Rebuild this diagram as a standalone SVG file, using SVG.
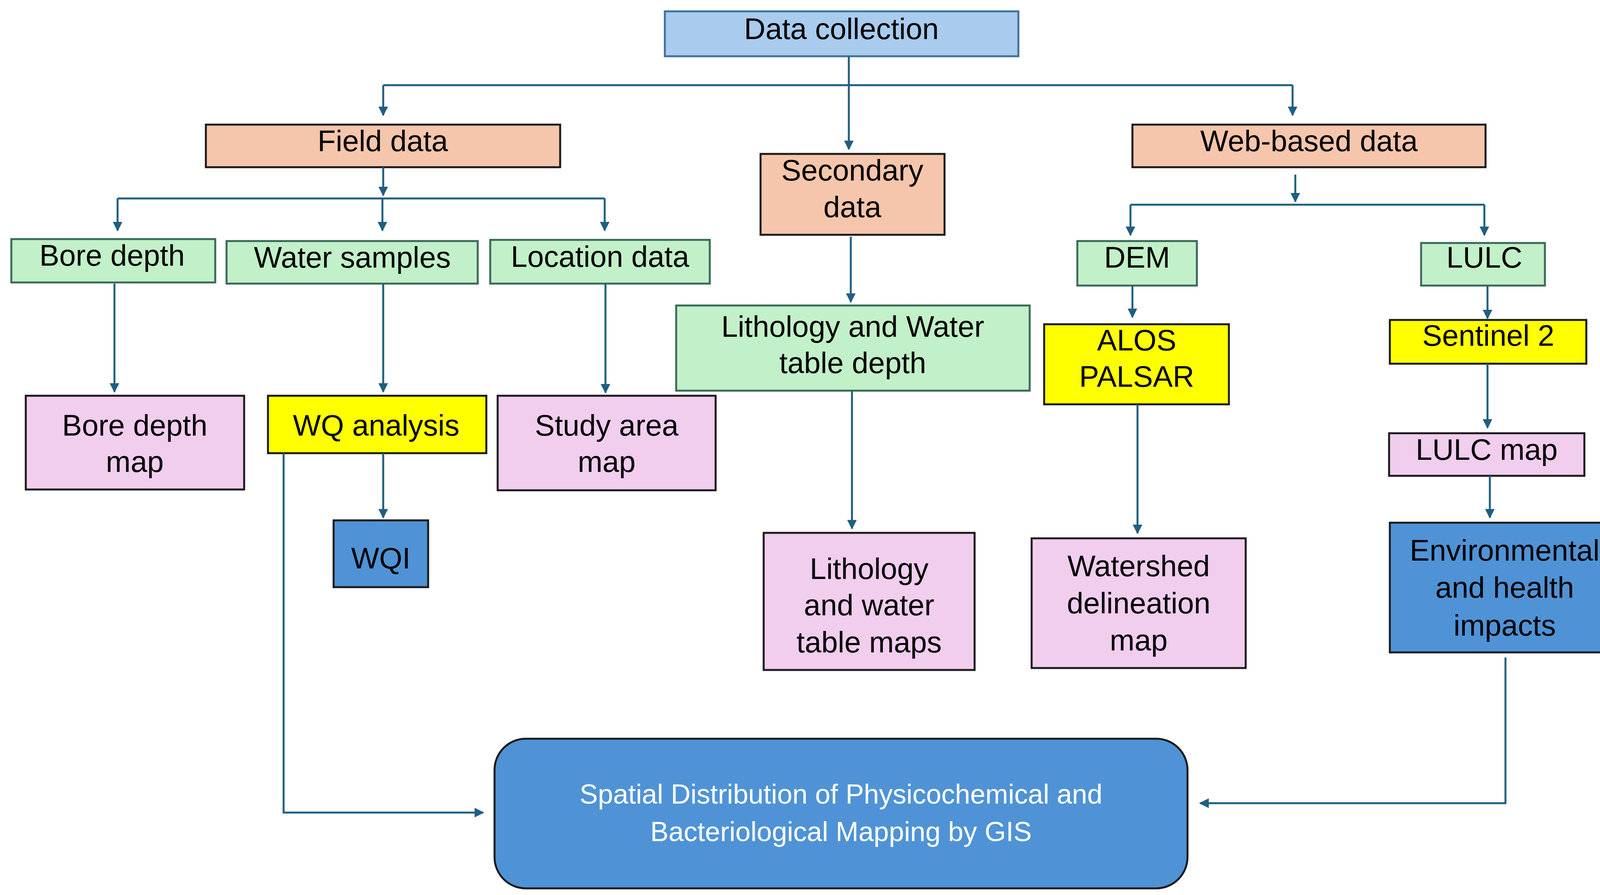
<svg xmlns="http://www.w3.org/2000/svg" width="4170" height="2291" viewBox="0 0 4170 2291">
<style>
rect{stroke:#1a1a1a;stroke-width:5}
.b{fill:#a9cbee;stroke:#41719c}.p{fill:#f5c6ab}.g{fill:#c2f0c8;stroke:#3a6a5a}.k{fill:#f1cdee}.y{fill:#ffff00}.d{fill:#4f93d6}
text{font-family:"Liberation Sans",Arial,sans-serif;font-size:76px;fill:#000;text-anchor:middle}
.w{fill:#fff;font-size:70px}
.c{fill:none;stroke:#1f5f80;stroke-width:5}
</style>
<defs><marker id="a" viewBox="0 0 10 10" refX="9" refY="5" markerWidth="5" markerHeight="5" orient="auto" markerUnits="strokeWidth"><path d="M0,0L10,5L0,10z" fill="#1f5f80"/></marker></defs>
<g id="n1"><rect class="b" x="1702" y="29" width="905" height="115"/><text x="2154" y="100">Data collection</text></g>
<g id="n2"><rect class="p" x="527" y="319" width="907" height="109"/><text x="980" y="387">Field data</text></g>
<g id="n3"><rect class="p" x="1947" y="394" width="471" height="207"/><text x="2182" y="462">Secondary</text><text x="2182" y="556">data</text></g>
<g id="n4"><rect class="p" x="2899" y="319" width="904" height="109"/><text x="3351" y="387">Web-based data</text></g>
<g id="n5"><rect class="g" x="29" y="612" width="522" height="111"/><text x="287" y="680">Bore depth</text></g>
<g id="n6"><rect class="g" x="580" y="617" width="643" height="109"/><text x="902" y="685">Water samples</text></g>
<g id="n7"><rect class="g" x="1255" y="614" width="562" height="112"/><text x="1536" y="683">Location data</text></g>
<g id="n8"><rect class="k" x="66" y="1013" width="559" height="240"/><text x="345" y="1115">Bore depth</text><text x="345" y="1208">map</text></g>
<g id="n9"><rect class="y" x="686" y="1013" width="559" height="147"/><text x="963" y="1115">WQ analysis</text></g>
<g id="n10"><rect class="k" x="1274" y="1013" width="558" height="242"/><text x="1553" y="1115">Study area</text><text x="1553" y="1208">map</text></g>
<g id="n11"><rect class="d" x="854" y="1332" width="242" height="171"/><text x="975" y="1455">WQI</text></g>
<g id="n12"><rect class="g" x="1731" y="782" width="905" height="218"/><text x="2183" y="862">Lithology and Water</text><text x="2183" y="955">table depth</text></g>
<g id="n13"><rect class="k" x="1955" y="1364" width="540" height="351"/><text x="2225" y="1482">Lithology</text><text x="2225" y="1575">and water</text><text x="2225" y="1670">table maps</text></g>
<g id="n14"><rect class="g" x="2758" y="617" width="306" height="114"/><text x="2911" y="685">DEM</text></g>
<g id="n15"><rect class="g" x="3638" y="622" width="317" height="109"/><text x="3800" y="685">LULC</text></g>
<g id="n16"><rect class="y" x="2673" y="830" width="473" height="205"/><text x="2910" y="897">ALOS</text><text x="2910" y="990">PALSAR</text></g>
<g id="n17"><rect class="k" x="2641" y="1378" width="548" height="332"/><text x="2915" y="1475">Watershed</text><text x="2915" y="1570">delineation</text><text x="2915" y="1665">map</text></g>
<g id="n18"><rect class="y" x="3558" y="819" width="503" height="112"/><text x="3810" y="885">Sentinel 2</text></g>
<g id="n19"><rect class="k" x="3556" y="1109" width="500" height="109"/><text x="3806" y="1177">LULC map</text></g>
<g id="n20"><rect class="d" x="3558" y="1338" width="588" height="332"/><text x="3852" y="1435">Environmental</text><text x="3852" y="1530">and health</text><text x="3852" y="1627">impacts</text></g>
<g id="n21"><rect class="d" x="1266" y="1891" width="1774" height="383" rx="80" stroke-width="6"/><text class="w" x="2153" y="2057">Spatial Distribution of Physicochemical and</text><text class="w" x="2153" y="2153">Bacteriological Mapping by GIS</text></g>
<g id="connectors">
<path class="c" d="M2173,144V218M981,218H3309"/>
<path class="c" marker-end="url(#a)" d="M981,218V295"/>
<path class="c" marker-end="url(#a)" d="M2173,218V382"/>
<path class="c" marker-end="url(#a)" d="M3309,218V295"/>
<path class="c" marker-end="url(#a)" d="M981,428V500"/>
<path class="c" d="M301,508H1548"/>
<path class="c" marker-end="url(#a)" d="M301,508V590"/>
<path class="c" marker-end="url(#a)" d="M979,508V590"/>
<path class="c" marker-end="url(#a)" d="M1548,508V590"/>
<path class="c" marker-end="url(#a)" d="M293,726V1003"/>
<path class="c" marker-end="url(#a)" d="M981,726V1003"/>
<path class="c" marker-end="url(#a)" d="M1550,726V1005"/>
<path class="c" marker-end="url(#a)" d="M981,1160V1325"/>
<path class="c" marker-end="url(#a)" d="M726,1160V2080H1237"/>
<path class="c" marker-end="url(#a)" d="M2178,606V773"/>
<path class="c" marker-end="url(#a)" d="M2181,1000V1353"/>
<path class="c" marker-end="url(#a)" d="M3316,447V516"/>
<path class="c" d="M2894,524H3800"/>
<path class="c" marker-end="url(#a)" d="M2894,524V602"/>
<path class="c" marker-end="url(#a)" d="M3800,524V602"/>
<path class="c" marker-end="url(#a)" d="M2899,731V812"/>
<path class="c" marker-end="url(#a)" d="M3808,731V815"/>
<path class="c" marker-end="url(#a)" d="M2912,1035V1365"/>
<path class="c" marker-end="url(#a)" d="M3808,931V1095"/>
<path class="c" marker-end="url(#a)" d="M3814,1218V1325"/>
<path class="c" marker-end="url(#a)" d="M3854,1683V2056H3072"/>
</g>
</svg>
